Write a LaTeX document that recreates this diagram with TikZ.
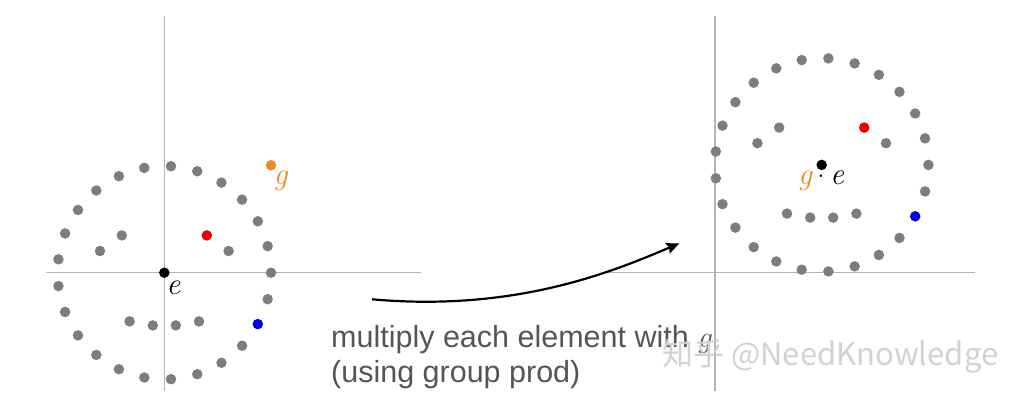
\documentclass[tikz,border=0pt]{standalone}
\usepackage{fontspec}
\newfontfamily\labelfont{Liberation Sans}
\newfontfamily\wmfont{Noto Sans CJK SC}
\newfontfamily\lmfont{Latin Modern Roman}
\usetikzlibrary{arrows.meta}
\definecolor{dotgray}{RGB}{125,125,125}
\definecolor{dotred}{RGB}{232,0,0}
\definecolor{dotblue}{RGB}{0,0,235}
\definecolor{gorange}{RGB}{240,138,30}
\definecolor{axisgray}{RGB}{180,180,180}
\definecolor{txtgray}{RGB}{85,85,85}
\newcommand\mvar[1]{{\lmfont\itshape #1}}
\begin{document}
\begin{tikzpicture}[x=1pt,y=-1pt,
  dot/.style={circle, fill=dotgray, inner sep=0pt, minimum size=10.5pt},
  axisline/.style={draw=axisgray, line width=1.6pt},
  mathlbl/.style={inner sep=0pt, font=\lmfont\itshape\fontsize{31}{36}\selectfont},
  txt/.style={inner sep=0pt, text=txtgray, font=\labelfont\fontsize{30.5}{36}\selectfont},
  wm/.style={inner sep=0pt, text=gray!35, font=\wmfont\fontsize{31}{36}\selectfont},
  arr/.style={-{Stealth[length=13pt,width=11pt,inset=2pt]}, line width=2.2pt, black}
]
\useasboundingbox (0,0) rectangle (1022,401);

% axes
\coordinate (LxA) at (46,272.5);
\coordinate (LxB) at (421,272.5);
\coordinate (LyA) at (164.3,16);
\coordinate (LyB) at (164.3,391);
\coordinate (RxA) at (607,272.3);
\coordinate (RxB) at (975,272.3);
\coordinate (RyA) at (715,16);
\coordinate (RyB) at (715,391);
\draw[axisline] (LxA) -- (LxB);
\draw[axisline] (LyA) -- (LyB);
\draw[axisline] (RxA) -- (RxB);
\draw[axisline] (RyA) -- (RyB);

% left pattern
\begin{scope}[shift={(164.3,272.7)}]
  \foreach \k in {0,...,22,24}
    \node[dot] (Lo\k) at ({106.7*cos(14.4*\k)},{-106.7*sin(14.4*\k)}) {};
  \node[dot, fill=dotblue] (Lblue) at ({106.7*cos(331.2)},{-106.7*sin(331.2)}) {};
  \foreach \x/\y [count=\i] in {-64.3/-21.7, -42.5/-37.3, 64.3/-21.7, -34.7/48.7, -11.5/52.7, 11.5/52.7, 34.7/48.7}
    \node[dot] (Li\i) at (\x,\y) {};
  \node[dot, fill=dotred] (Lred) at (42.5,-37.3) {};
  \node[dot, fill=black] (Le) at (0,0) {};
\end{scope}
\node[dot, fill=gorange] (Lg) at (271,165.3) {};

% right pattern
\begin{scope}[shift={(821.7,164.9)}]
  \foreach \k in {0,...,22,24}
    \node[dot] (Ro\k) at ({106.7*cos(14.4*\k)},{-106.7*sin(14.4*\k)}) {};
  \node[dot, fill=dotblue] (Rblue) at ({106.7*cos(331.2)},{-106.7*sin(331.2)}) {};
  \foreach \x/\y [count=\i] in {-64.3/-21.7, -42.5/-37.3, 64.3/-21.7, -34.7/48.7, -11.5/52.7, 11.5/52.7, 34.7/48.7}
    \node[dot] (Ri\i) at (\x,\y) {};
  \node[dot, fill=dotred] (Rred) at (42.5,-37.3) {};
  \node[dot, fill=black] (Re) at (0,0) {};
\end{scope}

% labels
\node[mathlbl] (le) at (173.3,288.3) {e};
\node[mathlbl, text=gorange] (lg) at (280.7,181) {g};
\node[mathlbl] (lge) at (821,181) {\textcolor{gorange}{g}\,{\upshape\raisebox{0.22em}{.}}\,e};

% arrow
\coordinate (as) at (372,299.3);
\coordinate (ae) at (679.5,243.3);
\draw[arr] (as) .. controls (515,312) and (612,272) .. (ae);

% caption
\node[txt, anchor=base west] (t1) at (331,347.3) {multiply each element with \mvar{g}};
\node[txt, anchor=base west] (t2) at (331,382.7) {(using group prod)};

% watermark
\node[wm, anchor=base west] (wmark) at (662,365) {知乎 @NeedKnowledge};
\end{tikzpicture}
\end{document}
